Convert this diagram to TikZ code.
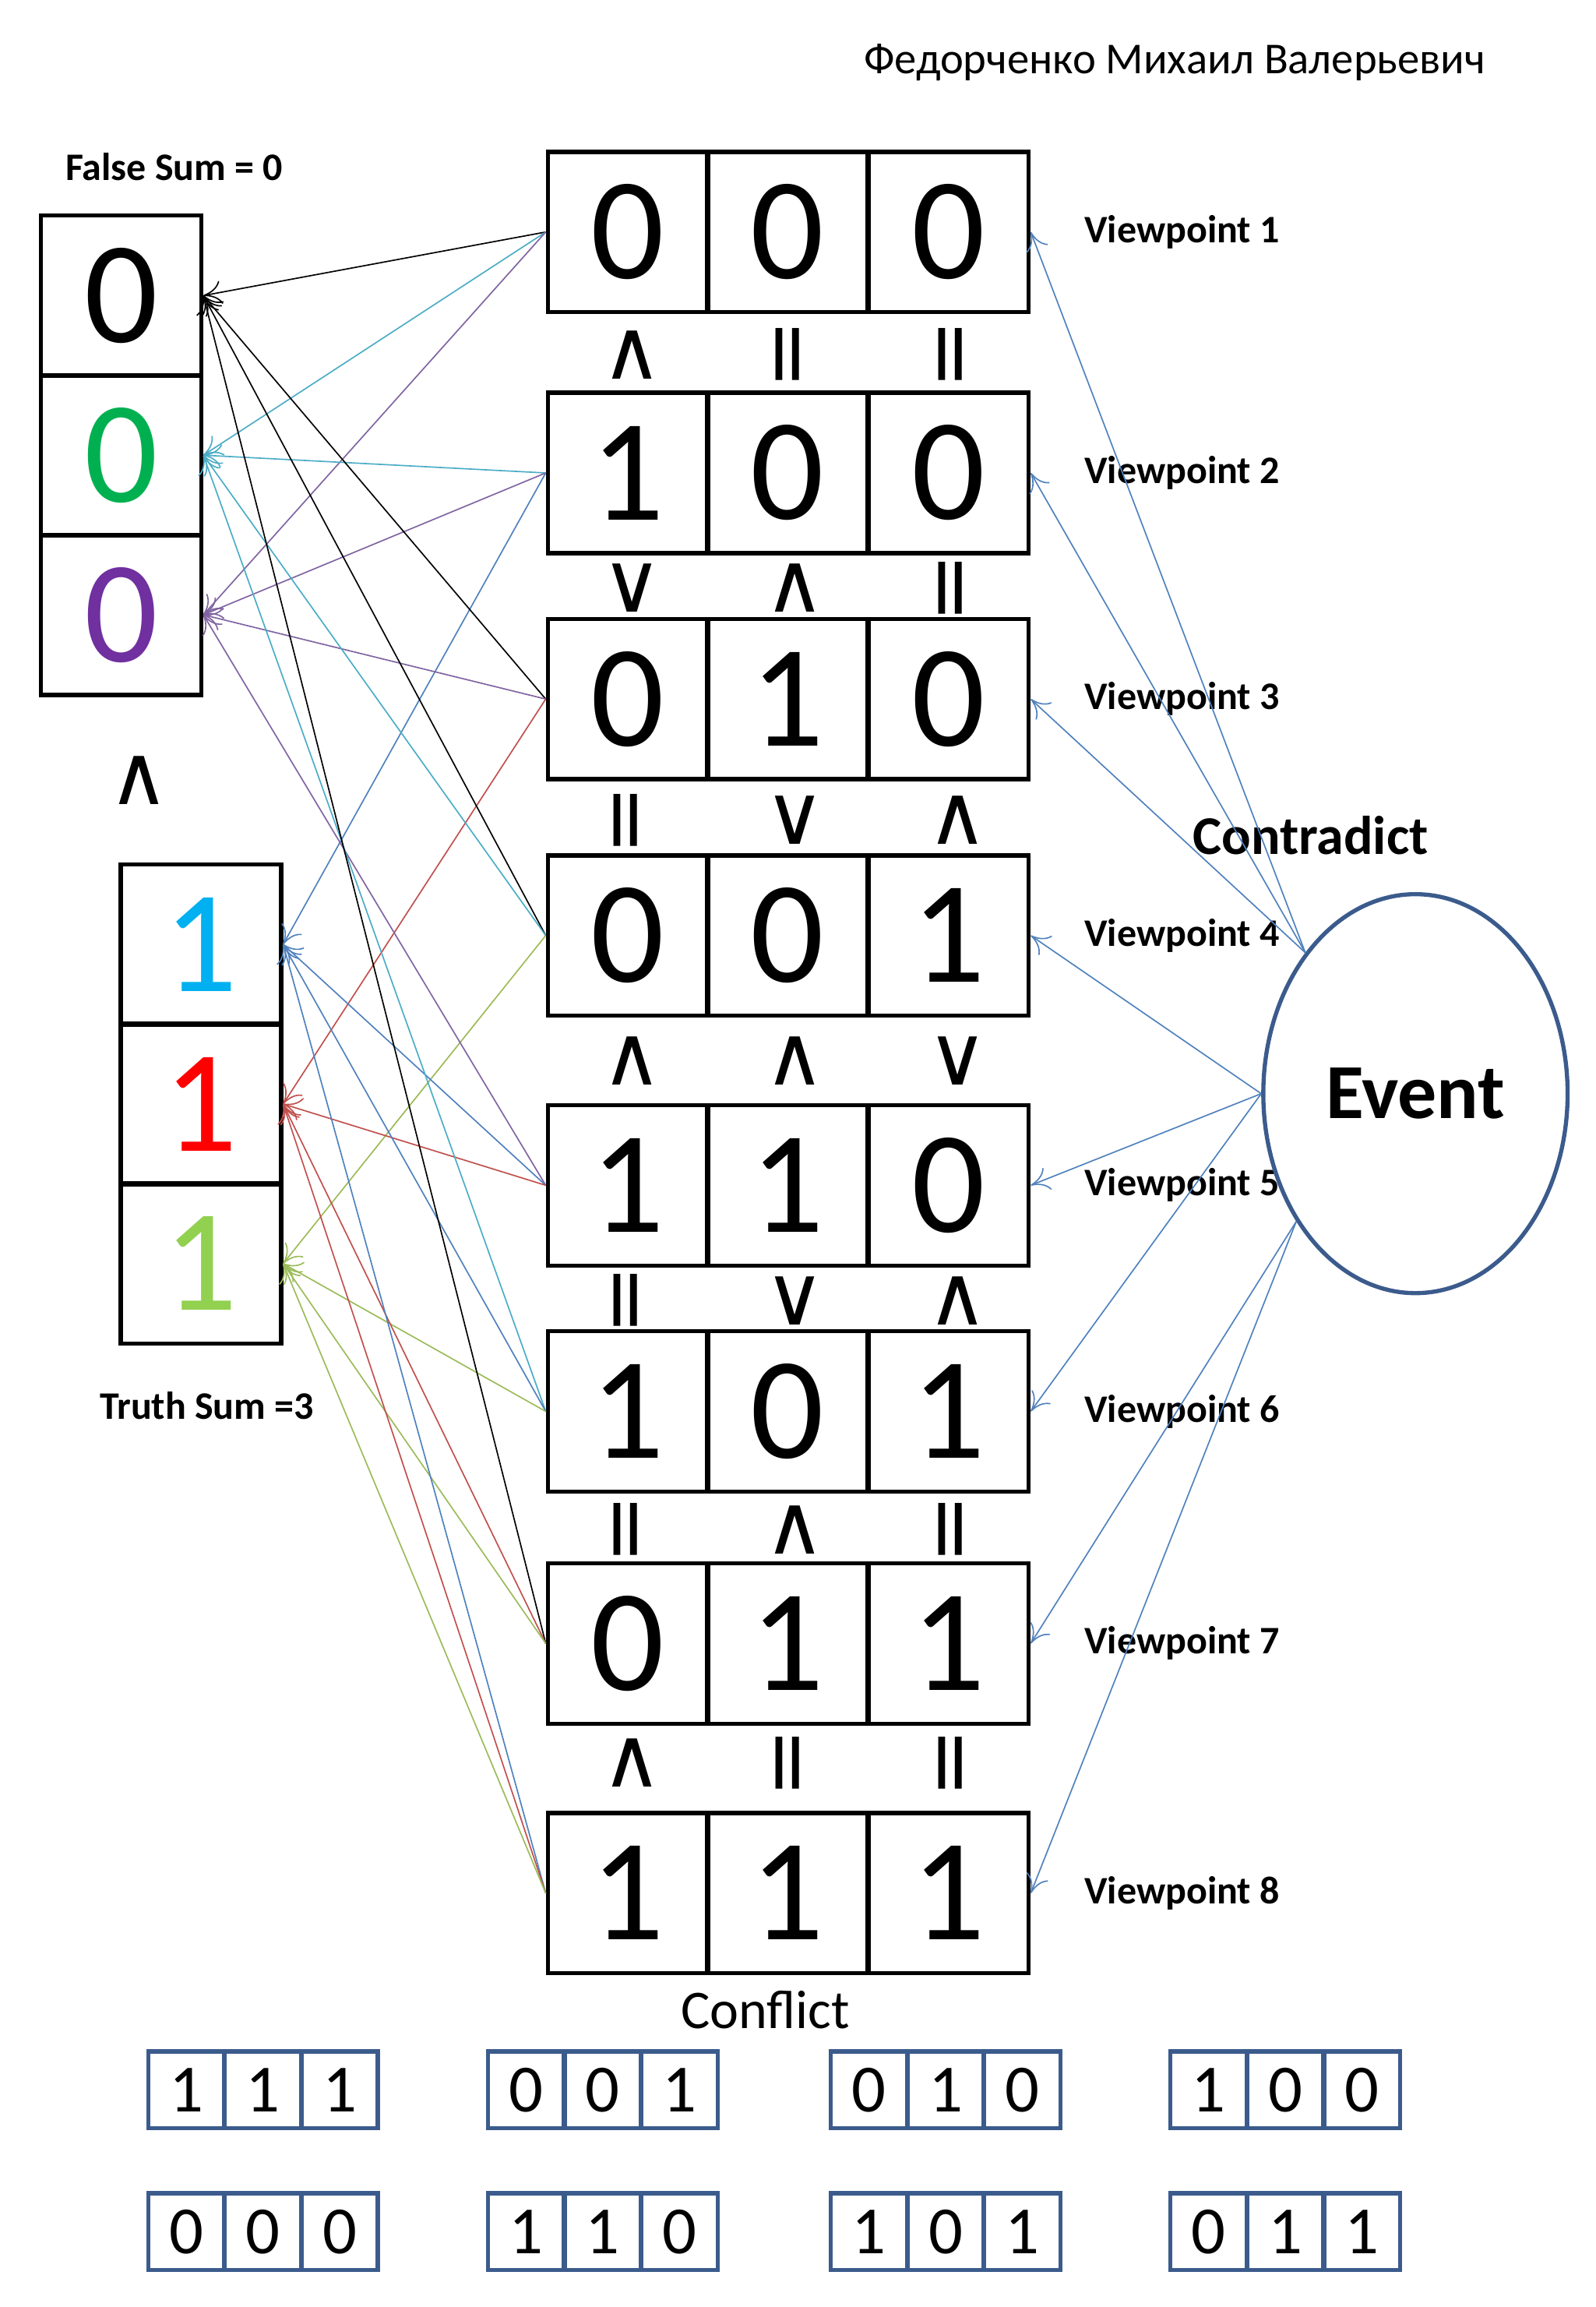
\documentclass[tikz,border=0pt]{standalone}
\usepackage{fontspec}
\setmainfont{Carlito}
\newfontfamily\opfont{DejaVu Sans}
\usetikzlibrary{shapes.geometric,arrows.meta}
\definecolor{fcyan}{HTML}{4BACC6}
\definecolor{fpurple}{HTML}{8064A2}
\definecolor{tblue}{HTML}{4F81BD}
\definecolor{tred}{HTML}{C0504D}
\definecolor{tgreen}{HTML}{9BBB59}
\definecolor{dcyan}{HTML}{00B0F0}
\definecolor{dgreen}{HTML}{00B050}
\definecolor{dpurple}{HTML}{7030A0}
\definecolor{dlime}{HTML}{92D050}
\definecolor{boxblue}{HTML}{3B5B8C}
\begin{document}
\begin{tikzpicture}
[x=0.02cm,y=-0.02cm,>={To[length=7pt,width=9pt]},
cell/.style={draw,line width=1.6pt,minimum width=2.17cm,minimum height=2.17cm,inner sep=0,font=\fontsize{56}{58}\selectfont},
tiny/.style={draw=boxblue,line width=1.6pt,minimum width=1.03cm,minimum height=1.04cm,inner sep=0,font=\fontsize{26}{27}\selectfont},
link/.style={->,line width=0.5pt},
vp/.style={font=\fontsize{15}{17}\selectfont\bfseries},
op/.style={inner sep=0,font=\opfont\fontsize{32}{34}\selectfont},]

\useasboundingbox (0,0) rectangle (1080,1561);

%Title
\node (title) at (795,42) {\fontsize{17}{19}\selectfont Федорченко Михаил Валерьевич};

%False column
\node (fsum) at (118,113) [vp] {False Sum = 0};
\node (f1) at (82,200) [cell] {0};
\node (f2) at (82,308) [cell,text=dgreen] {0};
\node (f3) at (82,416) [cell,text=dpurple] {0};
\node (and) at (94,528) [op] {∧};

%Truth column
\node (t1) at (136,639) [cell,text=dcyan] {1};
\node (t2) at (136,747) [cell,text=red] {1};
\node (t3) at (136,855) [cell,text=dlime] {1};
\node (tsum) at (140,951) [vp] {Truth Sum =3};

%Viewpoint rows
\foreach \r/\y/\a/\b/\c in {1/157/0/0/0,2/320/1/0/0,3/473/0/1/0,4/633/0/0/1,5/802/1/1/0,6/955/1/0/1,7/1112/0/1/1,8/1281/1/1/1}{
  \node (r\r a) at (425,\y) [cell] {\a};
  \node (r\r b) at (533,\y) [cell] {\b};
  \node (r\r c) at (642,\y) [cell] {\c};
  \node (v\r) at (800,\y) [vp] {Viewpoint \r};
}

%Relations between rows
\newcommand{\eqv}{\rotatebox{90}{=}}
\foreach \y/\p/\q/\s in {240/∧/\eqv/\eqv,398/∨/∧/\eqv,555/\eqv/∨/∧,718/∧/∧/∨,880/\eqv/∨/∧,1035/\eqv/∧/\eqv,1193/∧/\eqv/\eqv}{
  \node at (428,\y) [op] {\p};
  \node at (538,\y) [op] {\q};
  \node at (648,\y) [op] {\s};
}

%Links to the sums
\foreach \r/\t/\col in {1/f1/black,1/f2/fcyan,1/f3/fpurple,2/f2/fcyan,2/f3/fpurple,2/t1/tblue,
  3/f1/black,3/f3/fpurple,3/t2/tred,4/f1/black,4/f2/fcyan,4/t3/tgreen,5/f3/fpurple,5/t1/tblue,5/t2/tred,
  6/f2/fcyan,6/t1/tblue,6/t3/tgreen,7/f1/black,7/t2/tred,7/t3/tgreen,8/t1/tblue,8/t2/tred,8/t3/tgreen}
  \draw[link,\col] (r\r a.west) -- (\t.east);

%Event
\node (ev) at (958,740) [ellipse,draw=boxblue,line width=1.6pt,minimum width=4.12cm,minimum height=5.4cm,font=\fontsize{30}{32}\selectfont\bfseries] {Event};
\node (contr) at (887,565) [font=\fontsize{21}{23}\selectfont\bfseries] {Contradict};
\foreach \r/\a in {1/128,2/128,3/128,4/180,5/180,6/180,7/-133,8/-133}
  \draw[link,tblue] (ev.\a) -- (r\r c.east);

\node (confl) at (518,1360) [font=\fontsize{21}{23}\selectfont] {Conflict};

%Conflict triplets
\foreach \i/\x/\a/\b/\c in {1/126/1/1/1,2/356/0/0/1,3/588/0/1/0,4/818/1/0/0}{
  \node (u\i a) at (\x,1414) [tiny] {\a};
  \node (u\i b) at (\x+52,1414) [tiny] {\b};
  \node (u\i c) at (\x+104,1414) [tiny] {\c};
}
\foreach \i/\x/\a/\b/\c in {1/126/0/0/0,2/356/1/1/0,3/588/1/0/1,4/818/0/1/1}{
  \node (w\i a) at (\x,1510) [tiny] {\a};
  \node (w\i b) at (\x+52,1510) [tiny] {\b};
  \node (w\i c) at (\x+104,1510) [tiny] {\c};
}
\end{tikzpicture}
\end{document}
